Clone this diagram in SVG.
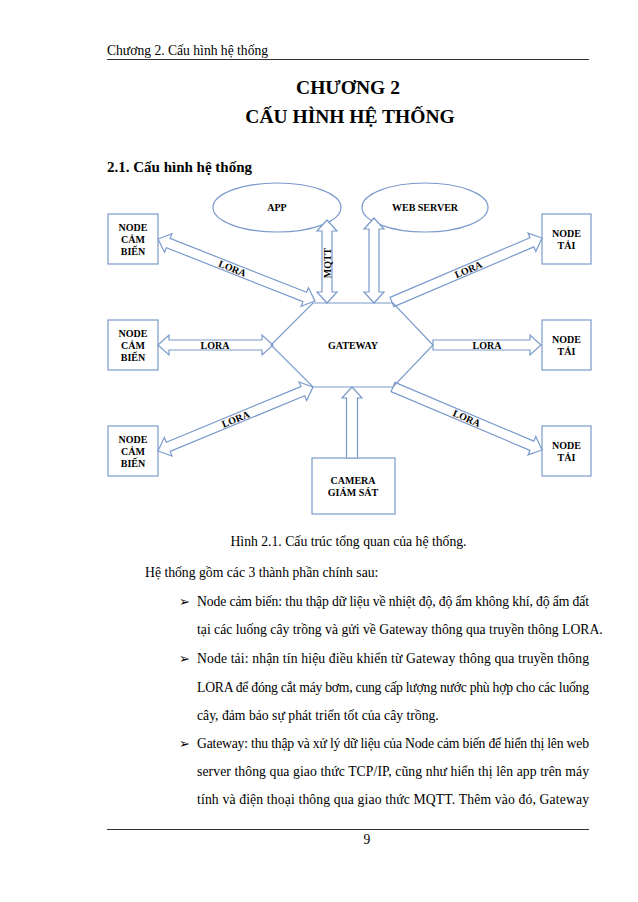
<svg xmlns="http://www.w3.org/2000/svg" width="638" height="902" viewBox="0 0 638 902">
<style>
.pg{font-family:"Liberation Serif","Times New Roman",serif;fill:#000}
.body{font-size:13.7px}
.lbl{font-family:"Liberation Serif","Times New Roman",serif;font-weight:bold;font-size:10px;fill:#000;text-anchor:middle}
.shp{fill:#fff;stroke:#7b9acb;stroke-width:1.2}
.hex{fill:none;stroke:#7b9acb;stroke-width:1.2}
.bul{font-family:"DejaVu Sans",sans-serif;font-size:13px;fill:#000}
</style>
<rect width="638" height="902" fill="#fff"/>
<!-- header -->
<text class="pg" x="107" y="55" font-size="13.6">Chương 2. Cấu hình hệ thống</text>
<line x1="107" y1="59.5" x2="589" y2="59.5" stroke="#333" stroke-width="1"/>
<text class="pg" x="348" y="94" font-size="19.5" font-weight="bold" text-anchor="middle">CHƯƠNG 2</text>
<text class="pg" x="350" y="122.5" font-size="19.5" font-weight="bold" text-anchor="middle">CẤU HÌNH HỆ THỐNG</text>
<text class="pg" x="107" y="172" font-size="15" font-weight="bold">2.1. Cấu hình hệ thống</text>

<!-- nodes -->
<g id="app"><ellipse class="shp" cx="277" cy="207.5" rx="64" ry="24.5"/><text class="lbl" x="277" y="211">APP</text></g>
<g id="webserver"><ellipse class="shp" cx="425" cy="207.5" rx="63" ry="24.5"/><text class="lbl" x="425" y="211">WEB SERVER</text></g>
<g id="cambien1"><rect class="shp" x="108" y="214" width="50" height="50"/><text class="lbl" x="133" y="231">NODE</text><text class="lbl" x="133" y="243">CẢM</text><text class="lbl" x="133" y="255">BIẾN</text></g>
<g id="cambien2"><rect class="shp" x="108" y="320" width="50" height="50"/><text class="lbl" x="133" y="337">NODE</text><text class="lbl" x="133" y="349">CẢM</text><text class="lbl" x="133" y="361">BIẾN</text></g>
<g id="cambien3"><rect class="shp" x="108" y="426" width="50" height="50"/><text class="lbl" x="133" y="443">NODE</text><text class="lbl" x="133" y="455">CẢM</text><text class="lbl" x="133" y="467">BIẾN</text></g>
<g id="tai1"><rect class="shp" x="542" y="214" width="49" height="50"/><text class="lbl" x="566.5" y="237">NODE</text><text class="lbl" x="566.5" y="249">TẢI</text></g>
<g id="tai2"><rect class="shp" x="542" y="320" width="49" height="50"/><text class="lbl" x="566.5" y="343">NODE</text><text class="lbl" x="566.5" y="355">TẢI</text></g>
<g id="tai3"><rect class="shp" x="542" y="426" width="49" height="50"/><text class="lbl" x="566.5" y="449">NODE</text><text class="lbl" x="566.5" y="461">TẢI</text></g>
<g id="camera"><rect class="shp" x="312" y="458" width="83" height="56"/><text class="lbl" x="353" y="484">CAMERA</text><text class="lbl" x="353" y="496">GIÁM SÁT</text></g>

<!-- connectors -->
<g id="connectors">
<g transform="translate(158,239) rotate(21.55)"><polygon class="shp" points="0,0 11,-10 11,-5 157.8,-5 157.8,-10 168.8,0 157.8,10 157.8,5 11,5 11,10"/><text class="lbl" x="80" y="3.5">LORA</text></g>
<g transform="translate(158,345)"><polygon class="shp" points="0,0 11,-10 11,-5 104,-5 104,-10 115,0 104,10 104,5 11,5 11,10"/><text class="lbl" x="57" y="3.5">LORA</text></g>
<g transform="translate(158,451) rotate(-22.44)"><polygon class="shp" points="0,0 11,-10 11,-5 156.7,-5 156.7,-10 167.7,0 156.7,10 156.7,5 11,5 11,10"/><text class="lbl" x="84" y="3.5">LORA</text></g>
<g transform="translate(392,302) rotate(-23.11)"><polygon class="shp" points="0,-5 152.1,-5 152.1,-10 163.1,0 152.1,10 152.1,5 0,5"/><text class="lbl" x="83" y="3.5">LORA</text></g>
<g transform="translate(433,345)"><polygon class="shp" points="0,-5 97,-5 97,-10 108,0 97,10 97,5 0,5"/><text class="lbl" x="54" y="3.5">LORA</text></g>
<g transform="translate(393,387) rotate(22.92)"><polygon class="shp" points="0,-5 150.8,-5 150.8,-10 161.8,0 150.8,10 150.8,5 0,5"/><text class="lbl" x="80" y="3.5">LORA</text></g>
<g transform="translate(327,220) rotate(90)"><polygon class="shp" points="0,0 11,-10 11,-5 72,-5 72,-10 83,0 72,10 72,5 11,5 11,10"/></g>
<text class="lbl" transform="translate(327,263) rotate(-90)" x="0" y="3.5">MQTT</text>
<g transform="translate(374,218) rotate(90)"><polygon class="shp" points="0,0 11,-10 11,-5 74,-5 74,-10 85,0 74,10 74,5 11,5 11,10"/></g>
<g transform="translate(352,458) rotate(-90)"><polygon class="shp" points="0,-5.5 60,-5.5 60,-10 71,0 60,10 60,5.5 0,5.5"/></g>
</g>
<g id="gateway"><polygon class="hex" points="313,303 393,303 433,345 393,387 313,387 271,345"/><text class="lbl" x="353" y="348.5">GATEWAY</text></g>

<!-- body text -->
<text class="pg body" x="348.5" y="546" text-anchor="middle">Hình 2.1. Cấu trúc tổng quan của hệ thống.</text>
<text class="pg body" x="145" y="577">Hệ thống gồm các 3 thành phần chính sau:</text>
<text class="bul" x="179" y="606">➢</text>
<text class="pg body" x="197" y="606" textLength="392" lengthAdjust="spacing">Node cảm biến: thu thập dữ liệu về nhiệt độ, độ ẩm không khí, độ ẩm đất</text>
<text class="pg body" x="197" y="634">tại các luống cây trồng và gửi về Gateway thông qua truyền thông LORA.</text>
<text class="bul" x="179" y="663">➢</text>
<text class="pg body" x="197" y="663" textLength="392" lengthAdjust="spacing">Node tải: nhận tín hiệu điều khiển từ Gateway thông qua truyền thông</text>
<text class="pg body" x="197" y="692" textLength="392" lengthAdjust="spacing">LORA để đóng cắt máy bơm, cung cấp lượng nước phù hợp cho các luống</text>
<text class="pg body" x="197" y="720">cây, đảm bảo sự phát triển tốt của cây trồng.</text>
<text class="bul" x="179" y="748">➢</text>
<text class="pg body" x="197" y="748" textLength="392" lengthAdjust="spacing">Gateway: thu thập và xử lý dữ liệu của Node cảm biến để hiển thị lên web</text>
<text class="pg body" x="197" y="776" textLength="392" lengthAdjust="spacing">server thông qua giao thức TCP/IP, cũng như hiển thị lên app trên máy</text>
<text class="pg body" x="197" y="804" textLength="392" lengthAdjust="spacing">tính và điện thoại thông qua giao thức MQTT. Thêm vào đó, Gateway</text>
<line x1="107" y1="829.5" x2="589" y2="829.5" stroke="#333" stroke-width="1"/>
<text class="pg" x="367" y="844" font-size="13.6" text-anchor="middle">9</text>
</svg>
